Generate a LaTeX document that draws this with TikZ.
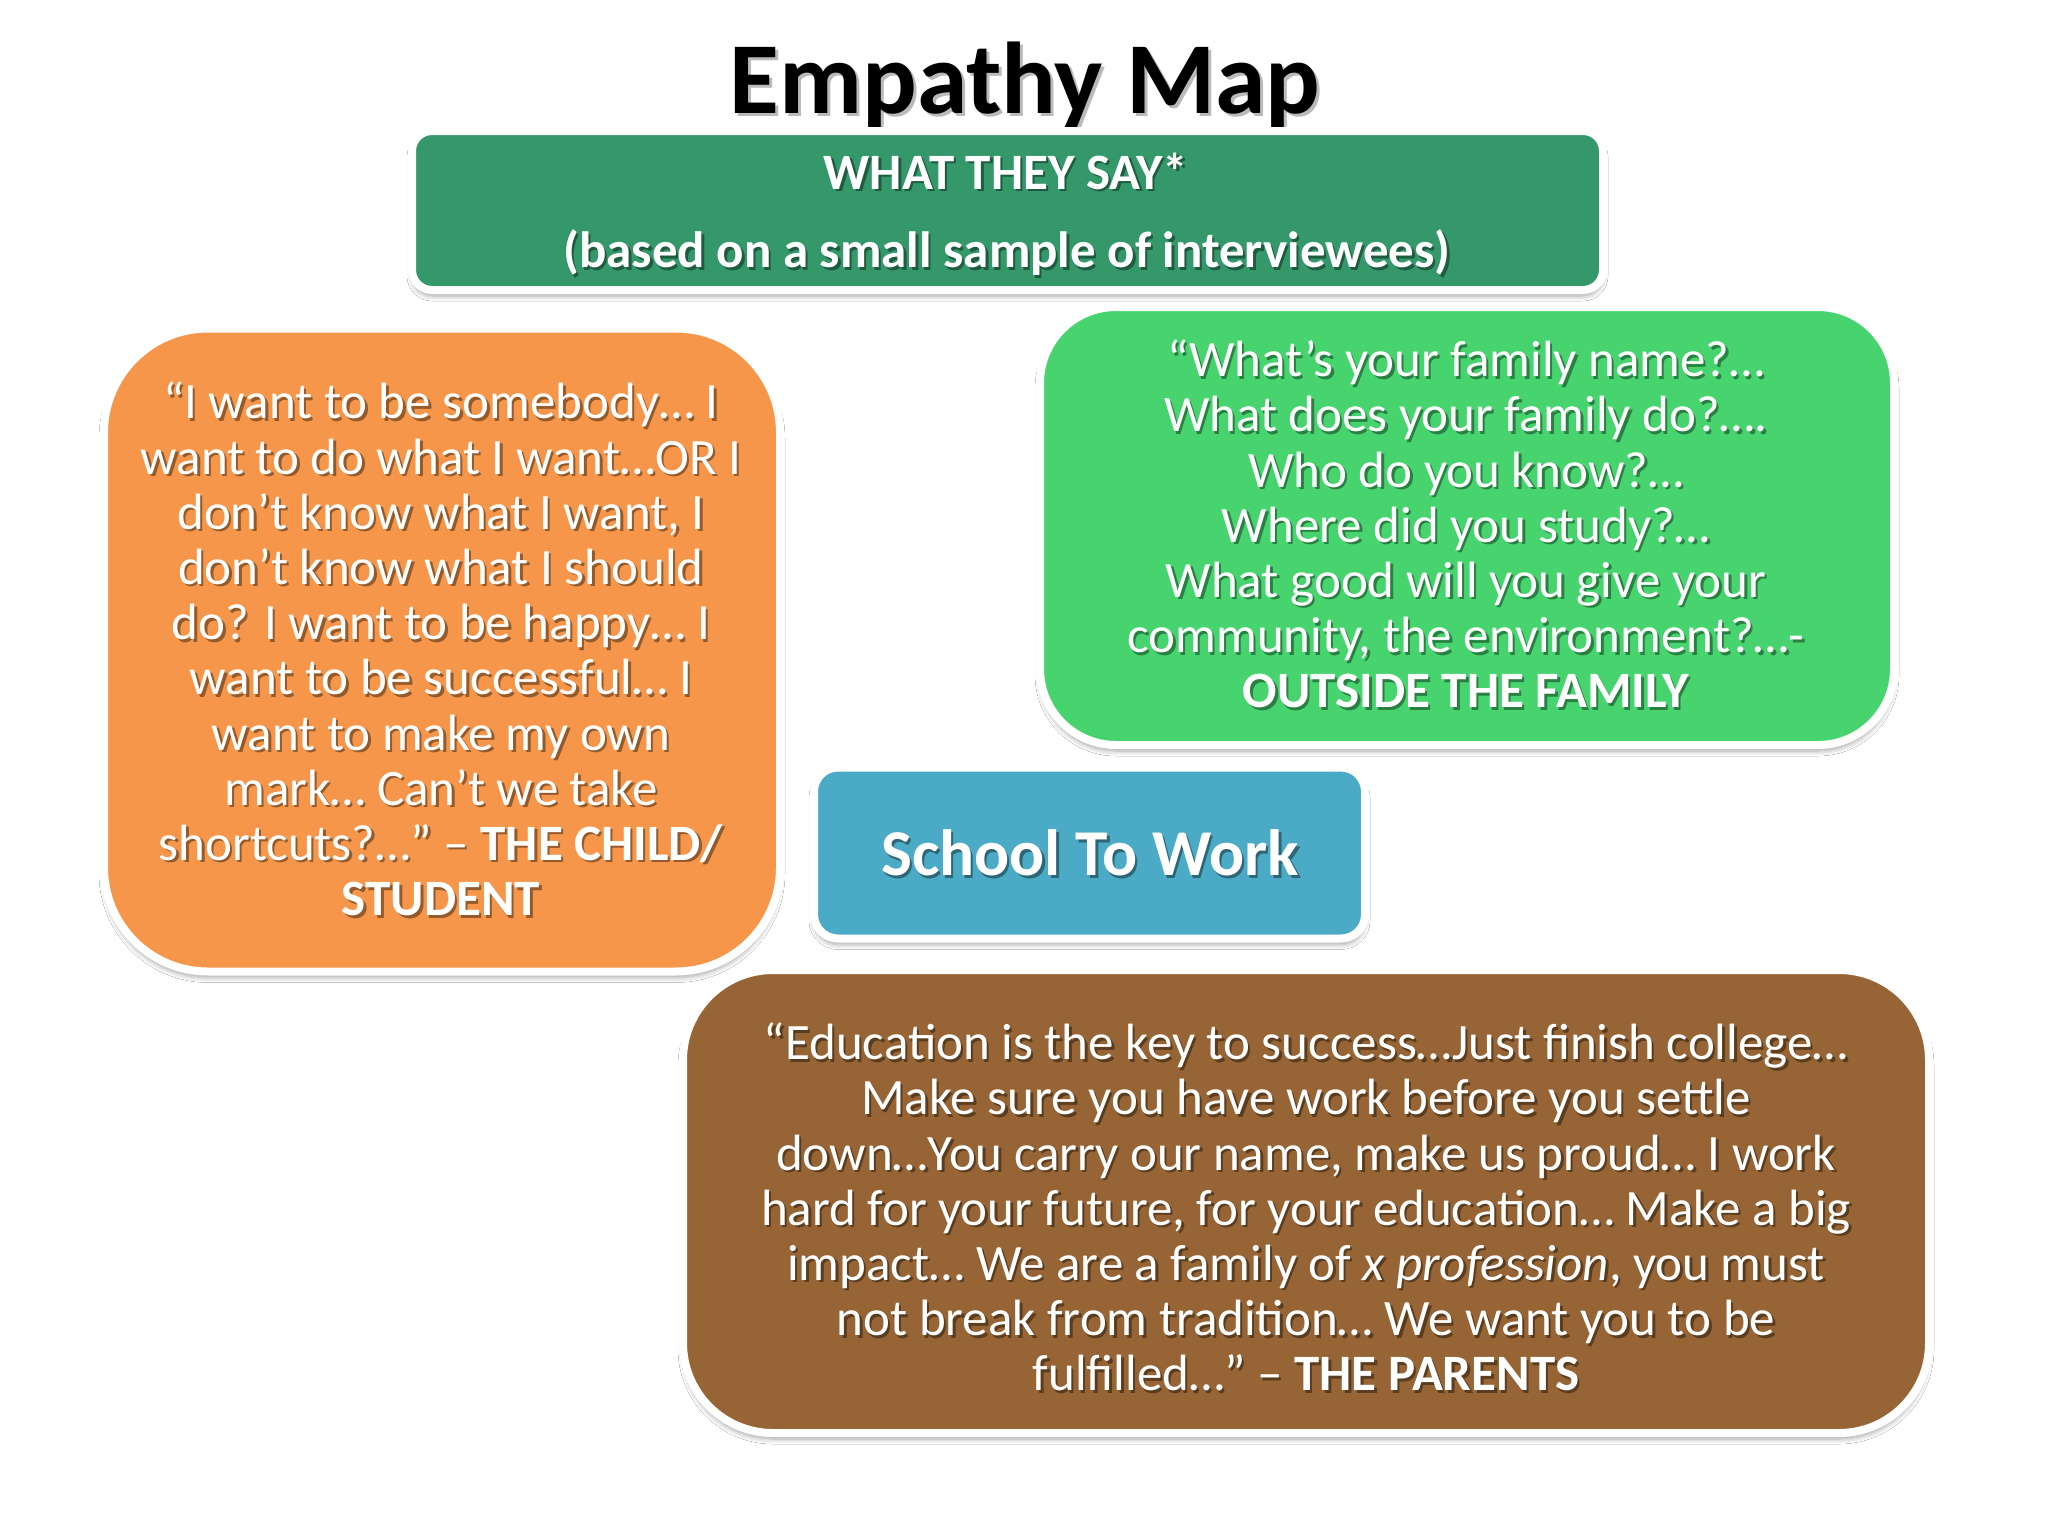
\documentclass[tikz,border=0pt]{standalone}
\usepackage{fontspec}
\setmainfont{Carlito}
\usetikzlibrary{shadows.blur}
\definecolor{dkgreenC}{HTML}{34986A}
\definecolor{orangeC}{HTML}{F5964A}
\definecolor{ltgreenC}{HTML}{47D46F}
\definecolor{blueC}{HTML}{4BAAC6}
\definecolor{brownC}{HTML}{976535}
\newcommand\orangeText{“I want to be somebody… I\\want to do what I want…OR I\\don’t know what I want, I\\don’t know what I should\\do? I want to be happy… I\\want to be successful… I\\want to make my own\\mark… Can’t we take\\shortcuts?…” – \textbf{THE CHILD/}\\\textbf{STUDENT}}
\newcommand\greenText{“What’s your family name?…\\What does your family do?….\\Who do you know?…\\Where did you study?…\\What good will you give your\\community, the environment?…-\\\textbf{OUTSIDE THE FAMILY}}
\newcommand\brownText{“Education is the key to success…Just finish college…\\Make sure you have work before you settle\\down…You carry our name, make us proud… I work\\hard for your future, for your education… Make a big\\impact… We are a family of \textit{x profession}, you must\\not break from tradition… We want you to be\\fulfilled…” – \textbf{THE PARENTS}}
\tikzset{
  box/.style={draw=white, line width=4pt, inner sep=0pt,
    blur shadow={shadow xshift=0pt, shadow yshift=-3pt, shadow opacity=35, shadow blur steps=6, shadow blur radius=2.5pt}},
  bodytxt/.style={text=white, align=center, font=\fontsize{25.5}{27.6}\selectfont, inner sep=0pt},
  headtxt/.style={font=\fontsize{25.5}{28}\selectfont\bfseries},
  shtxt/.style={text=black, opacity=0.4, xshift=1.2pt, yshift=-1.2pt},
}
\begin{document}
\begin{tikzpicture}[x=0.5pt,y=-0.5pt]
\useasboundingbox (0,0) rectangle (2048,1536);
\fill[white] (0,0) rectangle (2048,1536);
% title
\node[text=black!45, opacity=0.6, font=\fontsize{51}{58}\selectfont\bfseries, inner sep=0pt, xshift=1.5pt, yshift=-1.5pt] (titleSh) at (1025,86) {Empathy Map};
\node[text=black, font=\fontsize{51}{58}\selectfont\bfseries, inner sep=0pt] (title) at (1025,86) {Empathy Map};
% boxes
\node[box, fill=dkgreenC, rounded corners=10pt, minimum width=595.5pt, minimum height=79.5pt] (say) at (1007.5,210.5) {};
\node[box, fill=orangeC, rounded corners=52pt, minimum width=338pt, minimum height=321.5pt] (child) at (442,650) {};
\node[box, fill=ltgreenC, rounded corners=38pt, minimum width=427pt, minimum height=219pt] (outside) at (1467,526) {};
\node[box, fill=blueC, rounded corners=12pt, minimum width=275.5pt, minimum height=85.5pt] (school) at (1089.5,853) {};
\node[box, fill=brownC, rounded corners=45pt, minimum width=623pt, minimum height=231.5pt] (parents) at (1306,1201.5) {};
% header texts
\node[bodytxt, shtxt, headtxt] (sayASh) at (1006,171) {WHAT THEY SAY*};
\node[bodytxt, headtxt] (sayA) at (1006,171) {WHAT THEY SAY*};
\node[bodytxt, shtxt, headtxt] (sayBSh) at (1007,253) {(based on a small sample of interviewees)};
\node[bodytxt, headtxt] (sayB) at (1007,253) {(based on a small sample of interviewees)};
% orange
\node[bodytxt, shtxt] (childSh) at (441,649) {\orangeText};
\node[bodytxt] (childT) at (441,649) {\orangeText};
% light green
\node[bodytxt, shtxt] (outsideSh) at (1466,524) {\greenText};
\node[bodytxt] (outsideT) at (1466,524) {\greenText};
% blue
\node[bodytxt, shtxt, font=\fontsize{32.7}{38}\selectfont\bfseries] (schoolSh) at (1090,853) {School To Work};
\node[bodytxt, font=\fontsize{32.7}{38}\selectfont\bfseries] (schoolT) at (1090,853) {School To Work};
% brown
\node[bodytxt, shtxt] (parentsSh) at (1306,1207) {\brownText};
\node[bodytxt] (parentsT) at (1306,1207) {\brownText};
\end{tikzpicture}
\end{document}
